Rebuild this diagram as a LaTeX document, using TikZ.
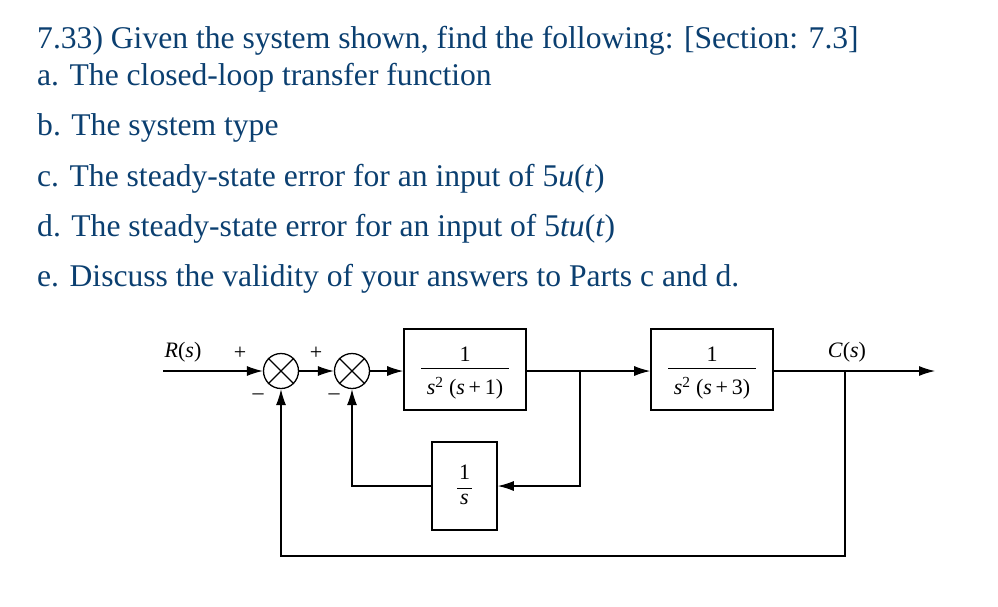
\documentclass[tikz,border=0pt]{standalone}
\usepackage{fontspec}
\setmainfont{Liberation Serif}
\usetikzlibrary{arrows.meta}
\definecolor{qblue}{HTML}{0B3F70}
\newcommand{\si}{\textit{s}}
\begin{document}
\begin{tikzpicture}[x=1pt,y=-1pt,
  q/.style={anchor=base west,inner sep=0pt,text=qblue,font=\fontsize{31.6}{34}\selectfont},
  blk/.style={draw,line width=1.6pt,inner sep=0pt},
  sumj/.style={draw,circle,line width=1.3pt,minimum size=35pt,inner sep=0pt},
  lab/.style={font=\fontsize{22}{24}\selectfont,inner sep=0pt},
  w/.style={line width=1.2pt},
  a/.style={w,-{Latex[length=16pt,width=10pt]}}]
\useasboundingbox (0,0) rectangle (998,606);
\node[q] (t1) at (37,48) {7.33) Given the system shown, find the following: [Section: 7.3]};
\node[q] (t2) at (37,85) {a. The closed-loop transfer function};
\node[q] (t3) at (37,135) {b. The system type};
\node[q] (t4) at (37,186) {c. The steady-state error for an input of 5\textit{u}(\textit{t})};
\node[q] (t5) at (37,236) {d. The steady-state error for an input of 5\textit{tu}(\textit{t})};
\node[q] (t6) at (37,286) {e. Discuss the validity of your answers to Parts c and d.};
% diagram
\coordinate (in) at (163,371);
\node[sumj] (s1) at (281,371) {};
\node[sumj] (s2) at (352,371) {};
\foreach \s in {s1,s2}{\draw[w] (\s.north west)--(\s.south east) (\s.north east)--(\s.south west);}
\node[blk,minimum width=122pt,minimum height=81pt] (g1) at (465,369.5) {};
\node[lab] at (465,354) {1};
\draw[line width=1pt] (421,368)--(509,368);
\node[lab] at (465,388) {\si\textsuperscript{2} (\si\,+\,1)};
\node[blk,minimum width=122pt,minimum height=81pt] (g2) at (712,369.5) {};
\node[lab] at (712,354) {1};
\draw[line width=1pt] (668,368)--(756,368);
\node[lab] at (712,388) {\si\textsuperscript{2} (\si\,+\,3)};
\node[blk,minimum width=65pt,minimum height=88pt] (h) at (464.5,486) {};
\node[lab] at (464.5,472) {1};
\draw[line width=1pt] (457,488)--(472,488);
\node[lab] at (464.5,499) {\si};
\coordinate (b1) at (580,371);
\coordinate (b2) at (845,371);
\coordinate (out) at (935,371);
\draw[a] (in)--(s1);
\draw[a] (s1)--(s2);
\draw[a] (s2)--(g1.west|-s2);
\draw[w] (g1.east|-b1)--(b1);
\draw[a] (b1)--(g2.west|-b1);
\draw[a] (g2.east|-b2)--(out);
\draw[a] (b1)|-(h.east);
\draw[a] (h.west)-|(s2.south);
\draw[a] (b2)--(845,556)-|(s1.south);
\node[lab] at (183,352) {\textit{R}(\si)};
\node[lab] at (847,352) {\textit{C}(\si)};
\node[lab] at (240,353) {+};
\node[lab] at (316,353) {+};
\node[lab] at (258,397) {\textendash};
\node[lab] at (334,397) {\textendash};
\end{tikzpicture}
\end{document}
